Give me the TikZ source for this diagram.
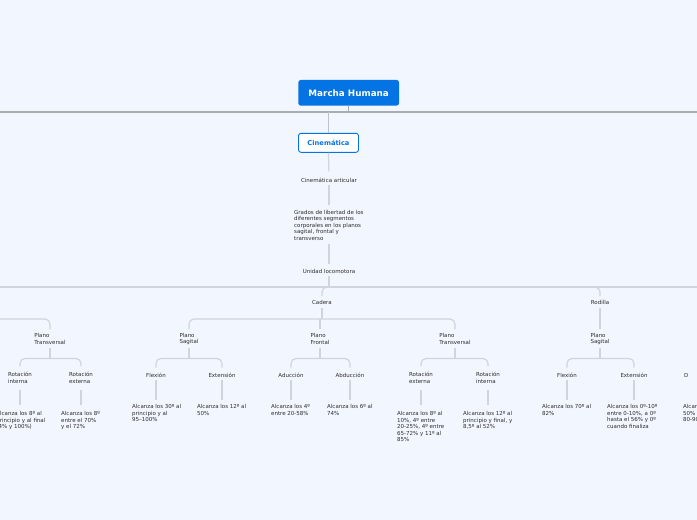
\documentclass[tikz,border=0pt]{standalone}
\usepackage{fontspec}
\setmainfont{DejaVu Sans}
\usetikzlibrary{calc}
\definecolor{bg}{RGB}{242,246,254}
\definecolor{mblue}{RGB}{4,115,228}
\definecolor{busc}{RGB}{170,172,175}
\definecolor{lnc}{RGB}{208,212,220}
\definecolor{lnm}{RGB}{192,196,202}
\definecolor{txt}{RGB}{45,45,45}
\begin{document}
\begin{tikzpicture}[x=1pt,y=-1pt,
  txtnode/.style={inner sep=0pt, text=txt, font=\fontsize{5.5}{6.5}\selectfont, align=left},
  leaf/.style={txtnode, anchor=north west},
  conn/.style={draw=lnc, line width=1.2pt},
  busl/.style={draw=busc, line width=1.8pt},
  conn1/.style={draw=lnm, line width=1.5pt}]
\useasboundingbox (0,0) rectangle (697,520);
\fill[bg] (0,0) rectangle (697,520);
\clip (0,0) rectangle (697,520);

% main nodes
\node[fill=mblue, rounded corners=2.5pt, minimum width=100.7pt, minimum height=25.7pt, inner sep=0pt,
      text=white, font=\fontsize{8.8}{10}\selectfont\bfseries] (main) at (348.7,92.8) {Marcha Humana};
\node[draw=mblue, line width=0.9pt, fill=white, rounded corners=2.5pt, minimum width=60pt, minimum height=19pt,
      inner sep=0pt, text=mblue, font=\fontsize{6.7}{8}\selectfont\bfseries] (cin) at (328.5,142.8) {Cinemática};

\node[txtnode] (ca) at (329,180) {Cinemática articular};
\node[leaf] (gr) at (294,209.8) {Grados de libertad de los\\diferentes segmentos\\corporales en los planos\\sagital, frontal y\\transverso};
\node[txtnode] (unidad) at (329,271) {Unidad locomotora};

\node[txtnode] (cadera) at (322,302.5) {Cadera};
\node[txtnode] (rodilla) at (600,302.5) {Rodilla};

% planes
\node[txtnode] (ptL) at (50,339) {Plano\\Transversal};
\node[txtnode] (psC) at (189,339) {Plano\\Sagital};
\node[txtnode] (pfC) at (320,339) {Plano\\Frontal};
\node[txtnode] (ptC) at (455,339) {Plano\\Transversal};
\node[txtnode] (psR) at (600,339) {Plano\\Sagital};

% children
\node[txtnode] (rinL) at (20,378) {Rotación\\interna};
\node[txtnode] (rexL) at (81,378) {Rotación\\externa};
\node[txtnode] (flexC) at (156,375) {Flexión};
\node[txtnode] (extC) at (222,375) {Extensión};
\node[txtnode] (adu) at (291,375) {Aducción};
\node[txtnode] (abd) at (350,375) {Abducción};
\node[txtnode] (rexC) at (421,378) {Rotación\\externa};
\node[txtnode] (rinC) at (488,378) {Rotación\\interna};
\node[txtnode] (flexR) at (567,375) {Flexión};
\node[txtnode] (extR) at (634,375) {Extensión};
\node[txtnode, anchor=west] (dR) at (684,375) {D};

% leaves
\node[leaf] (lL1) at (-3.8,411.5) {Alcanza los 8º al\\principio y al final\\(4\% y 100\%)};
\node[leaf] (lL2) at (61,411.5) {Alcanza los 8º\\entre el 70\%\\y el 72\%};
\node[leaf] (l1) at (132,404.5) {Alcanza los 30º al\\principio y al\\95–100\%};
\node[leaf] (l2) at (197,404.5) {Alcanza los 12º al\\50\%};
\node[leaf] (l3) at (271,404.5) {Alcanza los 4º\\entre 20-58\%};
\node[leaf] (l4) at (327,404.5) {Alcanza los 6º al\\74\%};
\node[leaf] (l5) at (397,411.5) {Alcanza los 8º al\\10\%, 4º entre\\20-25\%, 4º entre\\65-72\% y 11º al\\85\%};
\node[leaf] (l6) at (463,411.5) {Alcanza los 12º al\\principio y final, y\\8,5º al 52\%};
\node[leaf] (l7) at (542,404.5) {Alcanza los 70º al\\82\%};
\node[leaf] (l8) at (607,404.5) {Alcanza los 0º-10º\\entre 0-10\%, a 0º\\hasta el 56\% y 0º\\cuando finaliza};
\node[leaf] (l9) at (683,404.5) {Alcanza los\\50\%\\80-90\%};

% bus coordinates
\coordinate (b1) at (-5,111.7);
\coordinate (b1r) at (702,111.7);
\coordinate (b2) at (-5,287);
\coordinate (b2r) at (702,287);
\coordinate (b3) at (-10,319);
\coordinate (b4) at (0,358.5);

% connectors
\draw[busl] (b1) -- (b1r);
\draw[busl, line width=1.4pt] (main.south) -- (main.south |- b1);
\draw[conn1] (cin.north |- b1) -- (cin.north);
\draw[conn, shorten >=6pt] (cin.south) -- (ca.north);
\draw[conn, shorten <=3pt, shorten >=5pt] (ca.south) -- (ca.south |- gr.north);
\draw[conn, shorten <=4pt, shorten >=5pt] (ca.south |- gr.south) -- (unidad.north);
\draw[conn, shorten <=3pt] (unidad.south) -- (unidad.south |- b2);
\draw[conn] (b2) -- (b2r);
\draw[conn, rounded corners=5pt, shorten <=4pt] (cadera.north) |- ([xshift=20pt]cadera.north |- b2);
\draw[conn, rounded corners=5pt, shorten <=4pt] (rodilla.north) |- ([xshift=-20pt]rodilla.north |- b2);

\draw[conn, shorten <=3pt] (cadera.south) -- (cadera.south |- b3);
\draw[conn, rounded corners=5pt, shorten <=4pt, shorten >=4pt] (psC.north) |- (cadera.south |- b3) -| (ptC.north);
\draw[conn, shorten >=4pt] (pfC.north |- b3) -- (pfC.north);
\draw[conn, rounded corners=5pt, shorten <=4pt] (ptL.north) |- (b3);
\draw[conn, shorten <=3.5pt, shorten >=3.5pt] (rodilla.south) -- (psR.north);

\foreach \p/\a/\b/\s in {ptL/rinL/rexL/6, psC/flexC/extC/5, pfC/adu/abd/5, ptC/rexC/rinC/6, psR/flexR/extR/5}{
  \draw[conn, shorten <=3pt] (\p.south) -- (\p.south |- b4);
  \draw[conn, rounded corners=5pt, shorten <=\s pt, shorten >=\s pt] (\a.north) |- (\p.south |- b4) -| (\b.north);
}

\foreach \c/\l in {flexC/l1, extC/l2, adu/l3, abd/l4, flexR/l7, extR/l8}
  \draw[conn, shorten <=3pt, shorten >=4.5pt] (\c.south) -- (\c.south |- \l.north);
\foreach \c/\l in {rinL/lL1, rexL/lL2, rexC/l5, rinC/l6}
  \draw[conn, shorten <=6pt, shorten >=6.5pt] (\c.south) -- (\c.south |- \l.north);
\end{tikzpicture}
\end{document}
